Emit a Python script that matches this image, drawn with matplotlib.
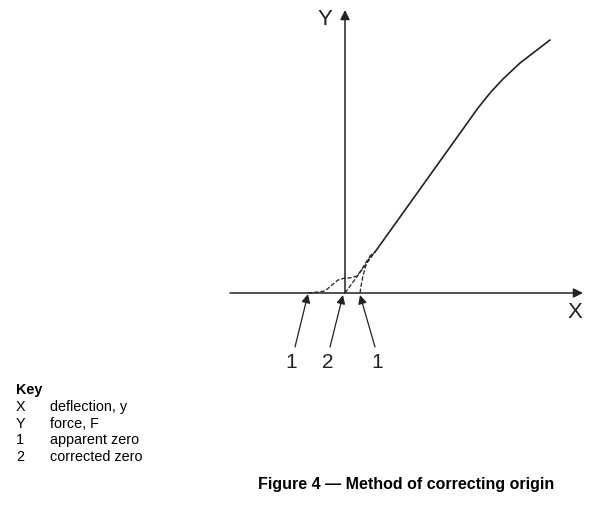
import numpy as np
import matplotlib.pyplot as plt

plt.rcParams['font.family'] = ['Liberation Sans', 'DejaVu Sans']

# schematic units (origin = corrected zero)
main_x = [30, 133, 145, 158, 175, 192, 205]
main_y = [41, 185, 200, 214, 230, 243, 253]

toe_left_x = [-37, -27, -20, -13, -7, 0, 5, 12, 17, 23, 28, 30]
toe_left_y = [0, 1, 2, 8, 13, 15, 15, 17, 24, 34, 39, 41]

toe_right_x = [15, 16, 18, 21, 25, 30]
toe_right_y = [0, 7, 17, 28, 37, 41]

extrap_x = [0, 30]
extrap_y = [0, 41]

arrow_tips = [(-37, -1), (-2, -2), (15, -2)]
arrow_tails = [(-50, -54), (-15, -54), (30, -54)]
arrow_labels = ['1', '2', '1']
label_pos = [(-54, -70), (-17, -70), (32, -70)]

key_symbols = ['X', 'Y', '1', '2']
key_texts = ['deflection, y', 'force, F', 'apparent zero', 'corrected zero']

ink = '#222222'

fig = plt.figure(figsize=(6.0, 5.09), dpi=100)
ax = fig.add_axes([0, 0, 1, 1])
ax.set_xlim(-345, 255)
ax.set_ylim(-216, 293)
ax.axis('off')

# axes with arrow heads
ax.annotate('', xy=(238, 0), xytext=(-115, 0),
            arrowprops=dict(arrowstyle='-|>', lw=1.1, color=ink,
                            mutation_scale=14, shrinkA=0, shrinkB=0))
ax.annotate('', xy=(0, 283), xytext=(0, 0),
            arrowprops=dict(arrowstyle='-|>', lw=1.1, color=ink,
                            mutation_scale=14, shrinkA=0, shrinkB=0))
ax.text(230, -20, 'X', fontsize=16, ha='center', va='center', color=ink)
ax.text(-20, 274, 'Y', fontsize=16, ha='center', va='center', color=ink)

# curves
ax.plot(main_x, main_y, color=ink, lw=1.2, solid_capstyle='round')
for xs, ys in [(toe_left_x, toe_left_y), (toe_right_x, toe_right_y),
               (extrap_x, extrap_y)]:
    ax.plot(xs, ys, color=ink, lw=0.9, dashes=(3.5, 1.5))

# pointer arrows
for tip, tail, lab, pos in zip(arrow_tips, arrow_tails, arrow_labels, label_pos):
    ax.annotate('', xy=tip, xytext=tail,
                arrowprops=dict(arrowstyle='-|>', lw=0.9, color=ink,
                                mutation_scale=13, shrinkA=0, shrinkB=0))
    ax.text(pos[0], pos[1], lab, fontsize=15, ha='center', va='center',
            color=ink)

# key
W, H = 600, 509
fig.text(16 / W, 1 - 390 / H, 'Key', fontsize=10.4, fontweight='bold',
         va='center', color='black')
for i, (s, t) in enumerate(zip(key_symbols, key_texts)):
    y = 1 - (407 + i * 16.7) / H
    fig.text(16 / W, y, s, fontsize=10.4, va='center')
    fig.text(50 / W, y, t, fontsize=10.4, va='center')

fig.text(258 / W, 1 - 484 / H, 'Figure 4 \u2014 Method of correcting origin',
         fontsize=11.5, fontweight='bold', va='center')

fig.savefig('out.png', dpi=100, facecolor='white')
